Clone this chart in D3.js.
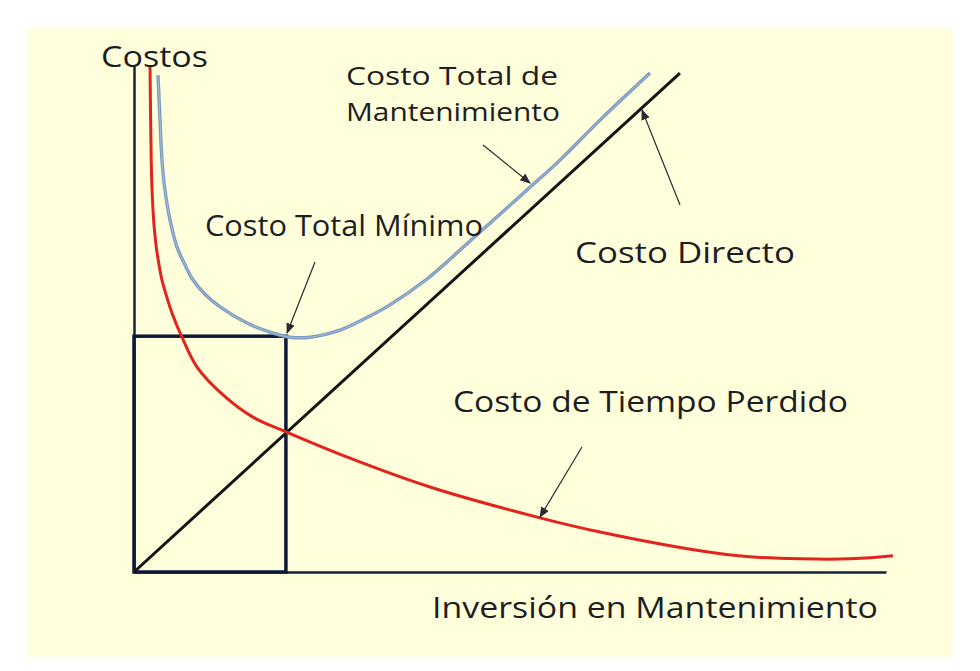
<!DOCTYPE html>
<html>
<head>
<meta charset="utf-8">
<script src="https://cdn.jsdelivr.net/npm/d3@7"></script>
<style>
  html, body { margin: 0; padding: 0; background: #ffffff; }
  svg { display: block; }
  text { font-family: "Comic Sans MS", "Open Sans", "DejaVu Sans", sans-serif; fill: #1e1e22; }
</style>
</head>
<body>
<svg id="chart" width="980" height="671"></svg>
<script>
// ---- Data (arbitrary units: investment 0-100, cost 0-100) ----
const directX = [0, 72.6];
const directY = [0, 98.6];

const totalX = [3.19, 3.46, 3.72, 4.12, 4.79, 5.72, 6.78, 7.85, 9.44, 11.44, 15.03, 18.09, 20.74, 23.40, 27.39, 30.05, 34.04, 38.96, 46.01, 52.26, 56.65, 61.97, 68.62];
const totalY = [98.2, 89.3, 81.4, 75.5, 69.6, 64.2, 60.7, 57.7, 54.9, 52.4, 49.2, 47.4, 46.4, 46.4, 47.8, 49.6, 52.8, 57.9, 67.2, 75.5, 81.4, 89.3, 98.6];

const downtimeX = [2.13, 2.21, 2.30, 2.46, 2.66, 2.93, 3.26, 3.72, 4.39, 5.05, 6.38, 8.38, 11.84, 15.82, 20.21, 28.72, 39.36, 53.99, 61.97, 75.27, 81.91, 88.56, 95.21, 100.93];
const downtimeY = [100.0, 89.3, 80.4, 73.5, 68.6, 64.6, 61.3, 57.7, 54.2, 51.2, 46.4, 40.5, 35.0, 30.6, 27.7, 22.5, 16.8, 10.7, 7.9, 4.2, 3.0, 2.6, 2.6, 3.2];

const optimumX = 20.2;   // investment at minimum total cost
const optimumY = 46.6;   // minimum total cost

const axisTitles = ["Costos", "Inversión en Mantenimiento"];
const labelTexts = ["Costo Total de", "Mantenimiento", "Costo Total Mínimo", "Costo Directo", "Costo de Tiempo Perdido"];

// ---- Layout ----
const svg = d3.select("#chart");
const x = d3.scaleLinear().domain([0, 100]).range([134, 886]);
const y = d3.scaleLinear().domain([0, 100]).range([572, 66]);

const defs = svg.append("defs");
defs.append("filter").attr("id", "soft").append("feGaussianBlur").attr("stdDeviation", 2);
defs.append("marker")
  .attr("id", "arrow").attr("viewBox", "0 0 10 10")
  .attr("refX", 9).attr("refY", 5)
  .attr("markerWidth", 9).attr("markerHeight", 9)
  .attr("orient", "auto-start-reverse")
  .append("path").attr("d", "M0,1 L10,5 L0,9 Z").attr("fill", "#2a2a30");

// panel
svg.append("rect").attr("x", 27).attr("y", 28).attr("width", 926).attr("height", 629)
  .attr("fill", "#ffffdc").attr("filter", "url(#soft)");

// axes
const axisColor = "#16223c";
const gx = svg.append("g").attr("transform", `translate(0,${y(0)})`)
  .call(d3.axisBottom(x).ticks(0).tickSizeOuter(0));
const gy = svg.append("g").attr("transform", `translate(${x(0)},0)`)
  .call(d3.axisLeft(y).ticks(0).tickSizeOuter(0));
[gx, gy].forEach(g => g.select(".domain").attr("stroke", axisColor).attr("stroke-width", 2.5));

// optimum box
svg.append("rect")
  .attr("x", x(0)).attr("y", y(optimumY))
  .attr("width", x(optimumX) - x(0)).attr("height", y(0) - y(optimumY))
  .attr("fill", "none").attr("stroke", "#0c1a3a").attr("stroke-width", 3.5);

const line = d3.line().x(d => x(d[0])).y(d => y(d[1])).curve(d3.curveCatmullRom.alpha(0.5));

// direct cost
svg.append("path").datum(d3.zip(directX, directY)).attr("d", line)
  .attr("fill", "none").attr("stroke", "#141414").attr("stroke-width", 3);

// downtime cost
svg.append("path").datum(d3.zip(downtimeX, downtimeY)).attr("d", line)
  .attr("fill", "none").attr("stroke", "#e2231e").attr("stroke-width", 3);

// total cost
svg.append("path").datum(d3.zip(totalX, totalY)).attr("d", line)
  .attr("fill", "none").attr("stroke", "#7b98be").attr("stroke-width", 3.4);
svg.append("path").datum(d3.zip(totalX, totalY)).attr("d", line)
  .attr("fill", "none").attr("stroke", "#a9c0dc").attr("stroke-width", 1);

// annotation arrows (data units)
const arrows = [
  [46.41, 84.39, 52.66, 76.88],
  [72.61, 72.53, 67.55, 91.30],
  [24.07, 61.26, 20.35, 47.23],
  [59.57, 24.70, 53.99, 10.87]
];
svg.selectAll("line.arrow").data(arrows).join("line").attr("class", "arrow")
  .attr("x1", d => x(d[0])).attr("y1", d => y(d[1]))
  .attr("x2", d => x(d[2])).attr("y2", d => y(d[3]))
  .attr("stroke", "#2a2a30").attr("stroke-width", 1.2).attr("marker-end", "url(#arrow)");

// texts: [text, x, y (data units), width px]
const texts = [
  [axisTitles[0], -4.39, 99.8, 107],
  [axisTitles[1], 39.63, -9.1, 446],
  [labelTexts[2], 9.44, 66.4, 278],
  [labelTexts[3], 58.64, 61.0, 220],
  [labelTexts[4], 42.42, 31.6, 395]
];
svg.selectAll("text.lbl").data(texts).join("text").attr("class", "lbl")
  .attr("x", d => x(d[1])).attr("y", d => y(d[2]))
  .attr("font-size", 30)
  .attr("textLength", d => d[3]).attr("lengthAdjust", "spacingAndGlyphs")
  .text(d => d[0]);

// two-line label
const twoLine = [[labelTexts[0], 96.2, 212], [labelTexts[1], 89.1, 214]];
svg.selectAll("text.two").data(twoLine).join("text").attr("class", "two")
  .attr("x", x(28.19)).attr("y", d => y(d[1]))
  .attr("font-size", 26)
  .attr("textLength", d => d[2]).attr("lengthAdjust", "spacingAndGlyphs")
  .text(d => d[0]);
</script>
</body>
</html>
